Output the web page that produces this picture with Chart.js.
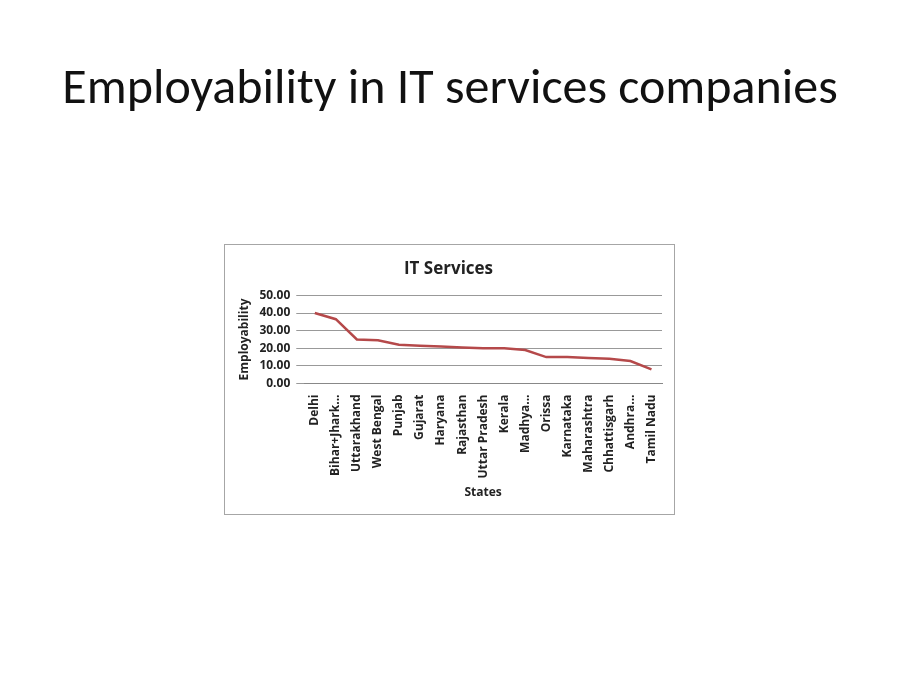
<!DOCTYPE html>
<html>
<head>
<meta charset="utf-8">
<script src="https://cdn.jsdelivr.net/npm/chart.js@4"></script>
<style>
  body { margin: 0; width: 900px; height: 675px; background: #fff; font-family: Calibri, Carlito, 'Open Sans', sans-serif; position: relative; }
  h1 { position: absolute; top: 55px; left: 0; width: 900px; margin: 0; text-align: center; font-weight: normal; font-size: 50px; color: #111; }
  #box { position: absolute; left: 224px; top: 244px; width: 449px; height: 269px; border: 1px solid #a6a6a6; }
</style>
</head>
<body>
<h1>Employability in IT services companies</h1>
<div id="box"><canvas id="c"></canvas></div>
<script>
const states = ['Delhi', 'Bihar+Jhark...', 'Uttarakhand', 'West Bengal', 'Punjab', 'Gujarat', 'Haryana',
  'Rajasthan', 'Uttar Pradesh', 'Kerala', 'Madhya...', 'Orissa', 'Karnataka', 'Maharashtra',
  'Chhattisgarh', 'Andhra...', 'Tamil Nadu'];
const employability = [40, 36.5, 25, 24.5, 22, 21.5, 21, 20.5, 20, 20, 19, 15, 15, 14.5, 14, 12.8, 8];

const font = "'Open Sans', sans-serif";
new Chart(document.getElementById('c'), {
  type: 'line',
  data: {
    labels: states,
    datasets: [{
      data: employability,
      borderColor: '#b5494a',
      borderWidth: 2.5,
      pointRadius: 0,
      tension: 0
    }]
  },
  options: {
    responsive: true,
    maintainAspectRatio: false,
    animation: false,
    layout: { padding: { left: 10, right: 12, top: 6, bottom: 10 } },
    plugins: {
      legend: { display: false },
      title: { display: true, text: 'IT Services', color: '#222', font: { family: font, size: 17, weight: 'bold' }, padding: { top: 8, bottom: 16 } },
      tooltip: { enabled: false }
    },
    scales: {
      x: {
        offset: true,
        grid: { display: false },
        border: { color: '#888' },
        ticks: { color: '#222', maxRotation: 90, minRotation: 90, autoSkip: false, font: { family: font, size: 12, weight: 'bold' } },
        title: { display: true, text: 'States', color: '#222', font: { family: font, size: 12, weight: 'bold' }, padding: 4 }
      },
      y: {
        min: 0, max: 50,
        grid: { color: '#999' },
        border: { display: false },
        ticks: { stepSize: 10, color: '#222', padding: 6, callback: v => v.toFixed(2), font: { family: font, size: 12, weight: 'bold' } },
        title: { display: true, text: 'Employability', color: '#222', font: { family: font, size: 12, weight: 'bold' }, padding: 2 }
      }
    }
  }
});
</script>
</body>
</html>
